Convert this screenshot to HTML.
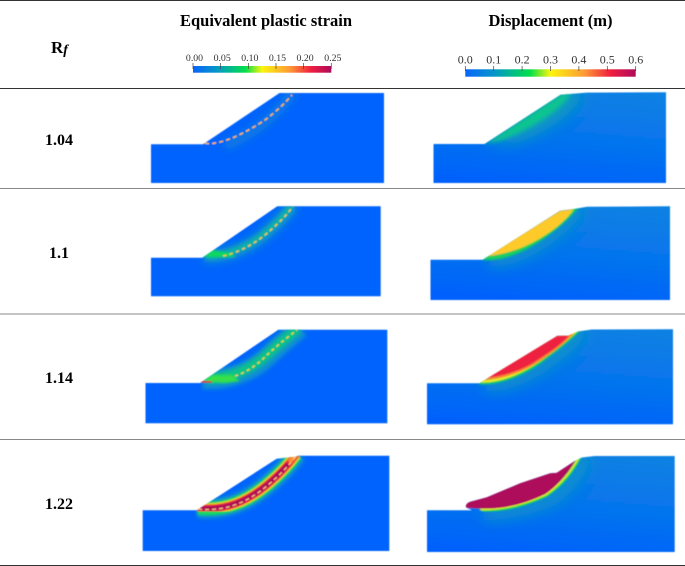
<!DOCTYPE html>
<html>
<head>
<meta charset="utf-8">
<title>Equivalent plastic strain and displacement by reduction factor</title>
<style>
html,body{margin:0;padding:0;background:#fff;}
svg{display:block;}
text{font-family:"Liberation Serif",serif;}
.head{font-weight:bold;font-size:16.5px;fill:#000;}
.rf{font-weight:bold;font-size:16px;fill:#000;text-anchor:middle;}
.tick{fill:#333;text-anchor:middle;}
</style>
</head>
<body>
<svg id="figure" width="685" height="566" viewBox="0 0 685 566" xmlns="http://www.w3.org/2000/svg">
<defs>
<linearGradient id="cmap" x1="0" x2="1" y1="0" y2="0">
<stop offset="0" stop-color="#0764fa"/><stop offset=".17" stop-color="#0596c8"/><stop offset=".38" stop-color="#02e04a"/><stop offset=".5" stop-color="#fbf50e"/><stop offset=".7" stop-color="#fd9a35"/><stop offset=".85" stop-color="#f0203f"/><stop offset="1" stop-color="#ae0a5c"/>
</linearGradient>
<linearGradient id="dispBody" x1="0.7" y1="0" x2="0.5" y2="1">
<stop offset="0" stop-color="#0a82e2"/><stop offset=".55" stop-color="#0673ee"/><stop offset="1" stop-color="#0460fd"/>
</linearGradient>
<filter id="b04" x="-5%" y="-5%" width="110%" height="110%"><feGaussianBlur stdDeviation="0.4"/></filter>
<filter id="b1" x="-50%" y="-50%" width="200%" height="200%"><feGaussianBlur stdDeviation="1"/></filter>
<filter id="b2" x="-50%" y="-50%" width="200%" height="200%"><feGaussianBlur stdDeviation="2"/></filter>
<filter id="b4" x="-100%" y="-100%" width="300%" height="300%"><feGaussianBlur stdDeviation="4"/></filter>
<filter id="b7" x="-100%" y="-100%" width="300%" height="300%"><feGaussianBlur stdDeviation="7"/></filter>
<clipPath id="cA1"><path d="M151,144.3H203L279.5,93H384V183H151Z"/></clipPath>
<clipPath id="cD1"><path d="M433.5,144H484.5L560.5,94.7L587,92.6L666,92.3V183H433.5Z"/></clipPath>
<clipPath id="cA2"><path d="M151,257.7H202.3L277.3,206.3H380.7V296.3H151Z"/></clipPath>
<clipPath id="cD2"><path d="M430.5,259.7H482.7L560,210.7L574,209L587,206.7L670,206.3V300H430.5Z"/></clipPath>
<clipPath id="cA3"><path d="M145.5,383H200L278.3,329.7H387.3V423.3H145.5Z"/></clipPath>
<clipPath id="cD3"><path d="M427,383.3H479.3L557.3,335.7L568,335.7L578,331.5L592,329.5L673,329.3V424.3H427Z"/></clipPath>
<clipPath id="cA4"><path d="M142.7,510.3H196.7L276.7,458.7L296,456.7L298,455.7H389.3V551H142.7Z"/></clipPath>
<clipPath id="cD4"><path d="M427,510.3H472L466,507.5Q465,503.5 470,501.7L486.7,497.3L520,483.3L550,473.3L556.7,472.7L575,460.7L582,457.5L595,456L674.7,456V552H427Z"/></clipPath>
</defs>

<rect width="685" height="566" fill="#fff"/>

<g stroke-width="1">
<line x1="0" x2="685" y1="0.5" y2="0.5" stroke="#333"/>
<line x1="0" x2="685" y1="88.5" y2="88.5" stroke="#333"/>
<line x1="0" x2="685" y1="188.5" y2="188.5" stroke="#888"/>
<line x1="0" x2="685" y1="314" y2="314" stroke="#888"/>
<line x1="0" x2="685" y1="439.5" y2="439.5" stroke="#888"/>
<line x1="0" x2="685" y1="565.5" y2="565.5" stroke="#333"/>
</g>

<text x="51" y="53" font-size="17" font-weight="bold">R<tspan font-style="italic" font-size="14" dy="1">f</tspan></text>
<text class="head" x="180" y="26" textLength="172" lengthAdjust="spacing">Equivalent plastic strain</text>
<text class="head" x="488.5" y="26" textLength="124" lengthAdjust="spacing">Displacement (m)</text>

<g id="strainBar">
<rect x="193" y="66" width="138.3" height="6.7" fill="url(#cmap)"/>
</g>
<g id="dispBar">
<rect x="465.3" y="69.3" width="170.4" height="7.4" fill="url(#cmap)"/>
</g>

<text class="rf" x="59" y="145">1.04</text>
<text class="rf" x="59" y="258">1.1</text>
<text class="rf" x="59" y="383">1.14</text>
<text class="rf" x="59" y="509">1.22</text>

<!-- Row 1 -->
<g filter="url(#b04)">
<g clip-path="url(#cA1)">
<rect x="140" y="85" width="260" height="105" fill="#0563fd"/>
<path d="M225,146C250,135 262,125 272,116C282,107 287,100 293,92" fill="none" stroke="#0a80dc" stroke-width="10" opacity=".8" filter="url(#b4)"/>
</g>
<path d="M205,143.3C222,146 250,130 265,120C278,110 285,103 292,95" fill="none" stroke="#ffb81c" stroke-width="1.5" stroke-dasharray="4 3.2"/>
</g>
<g filter="url(#b04)">
<g clip-path="url(#cD1)">
<rect x="425" y="85" width="250" height="105" fill="url(#dispBody)"/>
<path d="M490,146L561,92L585,90C580,108 555,128 520,142Z" fill="#0aa0b8" opacity=".85" filter="url(#b7)"/>
<path d="M484,144L561,94L572,92C562,110 530,130 500,141Z" fill="#10c490" filter="url(#b2)"/>
</g>
</g>

<!-- Row 2 -->
<g filter="url(#b04)">
<g clip-path="url(#cA2)">
<rect x="140" y="200" width="250" height="105" fill="#0563fd"/>
<path d="M204,256C225,258 250,247 265,234C278,223 285,216 293,205" fill="none" stroke="#0a90d0" stroke-width="13" filter="url(#b4)"/>
<path d="M206,256C225,257 250,246 265,233C278,222 285,215 292,206" fill="none" stroke="#08b8a0" stroke-width="5.5" filter="url(#b2)"/>
<path d="M203,257L212,250L230,253L236,257Z" fill="#10d860" filter="url(#b1)"/>
<path d="M205,256.5H220" fill="none" stroke="#e6f020" stroke-width="2.6" filter="url(#b1)"/>
</g>
<path d="M223,256C240,252 252,245 265,235C278,224 285,217 293,206.5" fill="none" stroke="#f2c430" stroke-width="1.5" stroke-dasharray="3.5 3.2"/>
</g>
<g filter="url(#b04)">
<g clip-path="url(#cD2)">
<rect x="425" y="200" width="250" height="105" fill="url(#dispBody)"/>
<path d="M490,260C510,260 532,250 550,236C563,226 572,217 580,206" fill="none" stroke="#0a9bc0" stroke-width="14" opacity=".8" filter="url(#b7)"/>
<path d="M483,258C505,259 528,248 548,233C560,224 569,216 577,206" fill="none" stroke="#14d850" stroke-width="4" filter="url(#b1)"/>
<path d="M482.7,257L497,249.5L560,210.7L574,209C566,222 546,237 525,246.5C510,253 495,256.5 483,256.5Z" fill="#fdca2c" filter="url(#b04)"/>
</g>
</g>

<!-- Row 3 -->
<g filter="url(#b04)">
<g clip-path="url(#cA3)">
<rect x="140" y="322" width="255" height="110" fill="#0563fd"/>
<path d="M203,379C228,381 254,371 270,354C282,343 290,337 300,328" fill="none" stroke="#0990d2" stroke-width="20" filter="url(#b2)"/>
<path d="M208,378C228,379 253,369 269,353C281,342 289,336 298,328" fill="none" stroke="#0cc486" stroke-width="10" filter="url(#b2)"/>
<path d="M201,381.5L212,375L232,375L240,381L225,383Z" fill="#34e04a" filter="url(#b1)"/>
<path d="M202,381.7H226" fill="none" stroke="#fd9a30" stroke-width="2.6" filter="url(#b04)"/>
<path d="M201,381.8H212" fill="none" stroke="#d6203c" stroke-width="1.6"/>
</g>
<path d="M235,376C250,371 260,362 268,354C280,343 288,337 297,330" fill="none" stroke="#ecd030" stroke-width="1.5" stroke-dasharray="3.2 3.2"/>
</g>
<g filter="url(#b04)">
<g clip-path="url(#cD3)">
<rect x="420" y="322" width="260" height="110" fill="url(#dispBody)"/>
<path d="M486,385C508,385 532,374 552,358C566,348 574,340 583,329" fill="none" stroke="#0a9bc0" stroke-width="14" opacity=".8" filter="url(#b7)"/>
<path d="M479,382C500,384 528,372 548,355C562,345 570,338 579,329" fill="none" stroke="#14d850" stroke-width="4" filter="url(#b1)"/>
<path d="M479,381C500,382.5 527,371 547,354C561,344 569,337 577,330" fill="none" stroke="#f4ec20" stroke-width="3" filter="url(#b04)"/>
<path d="M479.3,380L557.3,335.7L576,331C567,342 556,350 546,357C527,371 503,380 479.3,380Z" fill="#fb8a32" filter="url(#b04)"/>
<path d="M483,378L557.3,335.7L569,335.5C559,347 546,354 533,363C517,372 500,377 483,378Z" fill="#ee2140" filter="url(#b04)"/>
</g>
</g>

<!-- Row 4 -->
<g filter="url(#b04)">
<g clip-path="url(#cA4)">
<rect x="135" y="450" width="260" height="110" fill="#0563fd"/>
<path d="M198,508C226,511 248,501 268,484C282,472 289,464 297,454" fill="none" stroke="#0a90d2" stroke-width="20" filter="url(#b2)"/>
<path d="M198,508C226,511 248,501 268,484C282,472 289,464 296,454.5" fill="none" stroke="#18d860" stroke-width="14" filter="url(#b1)"/>
<path d="M198,508C226,511 248,501 268,484C282,472 289,464 296,454.5" fill="none" stroke="#f4e020" stroke-width="10.5" filter="url(#b04)"/>
<path d="M198,508C226,511 248,501 268,484C282,472 289,464 296,454.5" fill="none" stroke="#ea2440" stroke-width="7.5" filter="url(#b04)"/>
<path d="M198,508C226,511 248,501 268,484C278,475 284,469 288,464" fill="none" stroke="#ae0c5a" stroke-width="4.6" filter="url(#b04)"/>
<path d="M289,462L296,455" fill="none" stroke="#fd9a30" stroke-width="5" filter="url(#b1)"/>
</g>
<path d="M198,509C226,512 248,502 268,485C282,473 289,465 296,456" fill="none" stroke="#f6cc80" stroke-width="1.2" stroke-dasharray="4 3"/>
</g>
<g filter="url(#b04)">
<g clip-path="url(#cD4)">
<rect x="420" y="450" width="260" height="110" fill="url(#dispBody)"/>
<path d="M484,514C508,514 534,507 553,498C569,486 577,474 586,456" fill="none" stroke="#0a9bc0" stroke-width="14" opacity=".75" filter="url(#b7)"/>
<path d="M482,510C505,511 528,504 547,495C563,484 572,472 580,457" fill="none" stroke="#14d850" stroke-width="3" filter="url(#b04)"/>
<path d="M480,509.3C505,510 527,503 546,494.5C562,483 571,471 578.5,458" fill="none" stroke="#f6e828" stroke-width="2" filter="url(#b04)"/>
<path d="M466,507.5Q465,503.5 470,501.7L486.7,497.3L520,483.3L550,473.3L556.7,472.7L575,460.7C569,472 556,487 545,494C527,503 505,509 485,508.5Q472,508.5 466,507.5Z" fill="#ae0c5c"/>
</g>
</g>

<script>
var strainTicks = ["0.00","0.05","0.10","0.15","0.20","0.25"];
var dispTicks = ["0.0","0.1","0.2","0.3","0.4","0.5","0.6"];

var svgNS = "http://www.w3.org/2000/svg";

function linearAxis(domainMax, x0, x1) {
  return function (v) { return x0 + (v / domainMax) * (x1 - x0); };
}

function drawTicks(groupId, ticks, axis, tickTop, tickBottom, labelY, fontSize, labelShift, prefix) {
  var group = document.getElementById(groupId);
  ticks.forEach(function (label) {
    var x = axis(parseFloat(label));
    var line = document.createElementNS(svgNS, "line");
    
    
    line.setAttribute("x1", x);
    line.setAttribute("x2", x);
    line.setAttribute("y1", tickTop);
    line.setAttribute("y2", tickBottom);
    line.setAttribute("stroke", "#444");
    line.setAttribute("stroke-width", "0.7");
    group.appendChild(line);
    var text = document.createElementNS(svgNS, "text");
    
    
    text.setAttribute("class", "tick");
    text.setAttribute("x", x + labelShift);
    text.setAttribute("y", labelY);
    text.setAttribute("font-size", fontSize);
    text.textContent = label;
    group.appendChild(text);
  });
}

drawTicks("strainBar", strainTicks, linearAxis(0.25, 193, 331.3), 63, 69, 61, 9.8, 1.5, "strain-colorbar");
drawTicks("dispBar", dispTicks, linearAxis(0.6, 465.3, 635.7), 66, 71, 63.5, 12, 0, "displacement-colorbar");
</script>
</svg>
</body>
</html>
